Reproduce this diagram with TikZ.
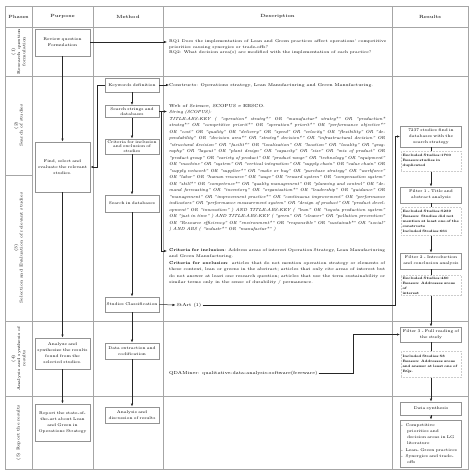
\documentclass[tikz,border=0pt]{standalone}
\usetikzlibrary{arrows.meta, positioning}
\tikzset{
  grid/.style={draw=gray!70, line width=0.6pt},
  head/.style={font=\fontsize{4.5}{5.5}\selectfont\bfseries, text=black!80},
  phase/.style={rotate=90, align=center, inner sep=0, font=\fontsize{4.2}{5.4}\selectfont},
  stepbox/.style={rectangle, draw=gray!85, line width=0.9pt, fill=white, align=center, inner sep=0.5pt, font=\fontsize{4}{6}\selectfont},
  purposebox/.style={stepbox, minimum width=55pt, text width=53pt},
  methodbox/.style={stepbox, minimum width=54pt, text width=53pt},
  resultbox/.style={stepbox, minimum width=61pt, text width=60pt},
  notebox/.style={rectangle, draw=gray!40, densely dotted, line width=0.5pt, fill=white, align=left, inner sep=1.5pt, minimum width=60pt, text width=57pt, font=\fontsize{3.3}{5}\selectfont\bfseries},
  desc/.style={align=justify, inner sep=0, text width=216pt, font=\fontsize{4.2}{5.6}\selectfont},
  link/.style={->, draw=black!85, line width=0.5pt},
  thicklink/.style={->, draw=black!85, line width=0.8pt}
}

\begin{document}
\begin{tikzpicture}[x=1pt, y=-1pt, >={Latex[length=3pt,width=2.4pt]}]
  \useasboundingbox (0,0) rectangle (474,474);
  \fill[white] (0,0) rectangle (474,474);

  % table
  \draw[grid] (5,6) rectangle (468,469);
  \draw[grid] (5,27) -- (468,27);
  \draw[grid] (5,76) -- (468,76);
  \draw[grid] (5,175) -- (32,175);
  \draw[grid] (5,321) -- (468,321);
  \draw[grid] (5,396) -- (468,396);
  \foreach \x in {32,93,163,392} \draw[grid] (\x,6) -- (\x,469);

  \foreach \x/\t in {18.5/Phases, 62.5/Purpose, 128/Method, 277.5/Description, 430/Results}
    \node[head] at (\x,16.5) {\t};

  % phases
  \node[phase] (ph1) at (18.5,51.5) {(1)\\Research question\\formulation};
  \node[phase] (ph2) at (18.5,125.5) {(2)\\Search of studies};
  \node[phase] (ph3) at (18.5,248) {(3)\\Selection and Evaluation of relevant studies};
  \node[phase] (ph4) at (18.5,358.5) {(4)\\Analysis and synthesis of\\results};
  \node[phase] (ph5) at (18.5,432.5) {(5) Report the results};

  % purpose
  \node[purposebox, minimum height=27pt] (rqf) at (62.5,42.5) {Review question\\Formulation};
  \node[purposebox, minimum height=50pt] (find) at (62.5,167) {Find, select and\\evaluate the relevant\\studies.};
  \node[purposebox, minimum height=31pt] (synth) at (62.5,353.5) {Analyze and\\synthesize the results\\found from the\\selected studies.};
  \node[purposebox, minimum height=37pt] (report) at (62.5,422.5) {Report the state-of-\\the-art about Lean\\and Green in\\Operations Strategy};

  % method
  \node[methodbox, minimum height=14pt] (kw) at (132,85) {Keywords definition};
  \node[methodbox, minimum height=12pt, font=\fontsize{4}{5}\selectfont] (ss) at (132,111.5) {Search strings and\\databases};
  \node[methodbox, minimum height=15pt, font=\fontsize{4}{4.8}\selectfont] (crit) at (132,146.5) {Criteria for inclusion\\and exclusion of\\studies};
  \node[methodbox, minimum height=17pt] (sdb) at (132,203.5) {Search in databases};
  \node[methodbox, minimum height=15pt] (cls) at (132,304.5) {Studies Classification};
  \node[methodbox, minimum height=16pt] (ext) at (132,351) {Data extraction and\\codification};
  \node[methodbox, minimum height=16pt] (disc) at (132,415) {Analysis and\\discussion of results};

  % description
  \node[desc, anchor=north west, text width=217pt, font=\fontsize{4}{5.6}\selectfont] (rqs) at (169,39.5) {\hyphenpenalty=10000\relax RQ1 Does the implementation of Lean and Green practices affect operations' competitive priorities causing synergies or trade-offs?\\RQ2: What decision area(s) are modified with the implementation of each practice?};
  \node[desc, anchor=west] (cons) at (169,85) {Constructs: Operations strategy, Lean Manufacturing and Green Manufacturing.};
  \node[desc, anchor=north west, font=\fontsize{4.4}{6.5}\selectfont] (str) at (169,104) {Web of Science, SCOPUS e EBSCO.\\\textit{String (SCOPUS):}\\\textit{TITLE-ABS-KEY ( "operation* strateg*" OR "manufactur* strateg*" OR "production* strateg*" OR "competitive priorit*" OR "operation* priorit*" OR "performance objective*" OR "cost" OR "quality" OR "delivery" OR "speed" OR "velocity" OR "flexibility" OR "dependability" OR "decision area*" OR "strateg* decision*" OR "infrastructural decision" OR "structural decision" OR "facilit*" OR "localization" OR "location" OR "locality" OR "geography" OR "layout" OR "plant design" OR "capacity" OR "size" OR "mix of product" OR "product group" OR "variety of product" OR "product range" OR "technology" OR "equipment" OR "machine" OR "system" OR "vertical integration" OR "supply chain" OR "value chain" OR "supply network" OR "supplier*" OR "make or buy" OR "purchase strategy" OR "workforce" OR "labor" OR "human resource" OR "wage" OR "reward system" OR "compensation system" OR "skill*" OR "competence*" OR "quality management" OR "planning and control" OR "demand forecasting" OR "inventory" OR "organization*" OR "leadership" OR "guidance" OR "management" OR "improvement practice*" OR "continuous improvement" OR "performance indicators" OR "performance measurement system" OR "design of product" OR "product development" OR "innovation" ) AND TITLE-ABS-KEY ( "lean" OR "toyota production system" OR "just in time" ) AND TITLE-ABS-KEY ( "green" OR "cleaner" OR "pollution prevention" OR "Resource efficiency" OR "environment*" OR "responsible" OR "sustainab*" OR "social" ) AND ABS ( "industr*" OR "manufactur*" )}};
  \node[desc, anchor=north west, font=\fontsize{4.05}{6.5}\selectfont] (crits) at (169,248) {\textbf{Criteria for inclusion}: Address areas of interest Operation Strategy, Lean Manufacturing and Green Manufacturing.\\\textbf{Criteria for exclusion}: articles that do not mention operation strategy or elements of these content, lean or greens in the abstract; articles that only cite areas of interest but do not answer at least one research question; articles that use the term sustainability or similar terms only in the sense of durability / permanence.};
  \node[font=\fontsize{4.4}{6}\selectfont, inner sep=1pt] (start) at (189,305) {StArt (1)};
  \node[font=\fontsize{4.4}{6}\selectfont, inner sep=1pt, anchor=west] (qda) at (168,373) {QDAMiner: qualitative-data-analysis-software(freeware)};

  % results
  \node[resultbox, minimum height=21pt] (found) at (431,136.5) {7237 studies find in\\databases with the\\search strategy};
  \node[resultbox, minimum height=16pt] (f1) at (431,195) {Filter 1 - Title and\\abstract analysis};
  \node[resultbox, minimum height=16pt] (f2) at (431,261) {Filter 2 - Introduction\\and conclusion analysis};
  \node[resultbox, minimum height=15pt] (f3) at (431,334.5) {Filter 3 - Full reading of\\the study};
  \node[resultbox, minimum height=13pt] (dsyn) at (431,408.5) {Data synthesis};
  \node[resultbox, minimum height=47pt, align=left, font=\fontsize{4}{6.2}\selectfont] (outc) at (431,443.5) {-\ \ Competitive\\\hspace*{6pt}priorities and\\\hspace*{6pt}decision areas in LG\\\hspace*{6pt}literature\\-\ \ Lean- Green practices\\-\ \ Synergies and trade-\\\hspace*{6pt}offs};

  \draw[link] (found) -- (f1);
  \draw[link] (f1) -- (f2);
  \draw[link] (f2) -- (f3);
  \draw[link] (f3) -- (dsyn);
  \draw[link] (dsyn) -- (outc);

  \node[notebox, minimum height=20pt] (ex1) at (431,161) {Excluded Studies:1700\\Reason:studies in\\duplicated};
  \node[notebox, minimum height=28pt] (ex2) at (431,221) {Excluded Studies:5239\\Reason: Studies did not\\mention at least one of the\\constructs\\Included Studies:661};
  \node[notebox, minimum height=17pt] (ex3) at (431,285.5) {Excluded Studies:480\\Reason: Addresses areas of\\interest};
  \node[notebox, minimum height=26pt] (in4) at (431,364) {Included Studies:58\\Reason: Addresses areas\\and answer at least one of\\RQs.};

  % purpose flow
  \draw[link] (rqf) -- (find);
  \draw[link] (find) -- (synth);
  \draw[link] (synth) -- (report);

  % method flow
  \draw[link] (kw) -- (ss);
  \draw[link] (ss) -- (crit);
  \draw[link] (crit) -- (sdb);
  \draw[link] (sdb) -- (cls);
  \draw[link] (cls) -- (ext);
  \draw[link] (ext) -- (disc);
  \draw[link] (kw.west) -- (97,85) |- (find.east);

  % to description
  \coordinate (rqin) at (167,42);
  \draw[link] (rqf.east |- rqin) -- (rqin);
  \draw[link] (kw.east) -- (cons.west);
  \draw[link] (ss.east) -- (167,111.5);
  \draw[link] (ss.east) -| (161,251) -- (167,251);
  \draw[link] (cls.east) -- (start.west);
  \draw[thicklink] (start.east) -- (395.5,305) |- (found.west);
  \draw[thicklink] (qda.east) -- (353,373) |- (f3.west);
\end{tikzpicture}
\end{document}
